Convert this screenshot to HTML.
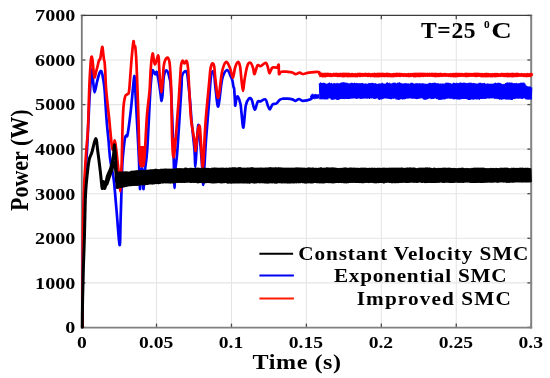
<!DOCTYPE html>
<html><head><meta charset="utf-8"><style>
html,body{margin:0;padding:0;background:#fff;width:550px;height:378px;overflow:hidden}
svg{display:block}
text{font-family:"Liberation Serif","Times New Roman",serif;font-weight:bold;fill:#000}
</style></head><body>
<svg width="550" height="378" viewBox="0 0 550 378">
<rect width="550" height="378" fill="#fff"/>
<g stroke="#e5e5e5" stroke-width="1.1"><line x1="156.53" y1="15.45" x2="156.53" y2="327.40"/><line x1="231.47" y1="15.45" x2="231.47" y2="327.40"/><line x1="306.40" y1="15.45" x2="306.40" y2="327.40"/><line x1="381.33" y1="15.45" x2="381.33" y2="327.40"/><line x1="456.27" y1="15.45" x2="456.27" y2="327.40"/><line x1="81.60" y1="282.84" x2="531.20" y2="282.84"/><line x1="81.60" y1="238.27" x2="531.20" y2="238.27"/><line x1="81.60" y1="193.71" x2="531.20" y2="193.71"/><line x1="81.60" y1="149.14" x2="531.20" y2="149.14"/><line x1="81.60" y1="104.58" x2="531.20" y2="104.58"/><line x1="81.60" y1="60.01" x2="531.20" y2="60.01"/></g>
<g stroke="#4a4a4a" stroke-width="1.3"><line x1="81.60" y1="327.40" x2="81.60" y2="323.60"/><line x1="81.60" y1="15.45" x2="81.60" y2="19.25"/><line x1="156.53" y1="327.40" x2="156.53" y2="323.60"/><line x1="156.53" y1="15.45" x2="156.53" y2="19.25"/><line x1="231.47" y1="327.40" x2="231.47" y2="323.60"/><line x1="231.47" y1="15.45" x2="231.47" y2="19.25"/><line x1="306.40" y1="327.40" x2="306.40" y2="323.60"/><line x1="306.40" y1="15.45" x2="306.40" y2="19.25"/><line x1="381.33" y1="327.40" x2="381.33" y2="323.60"/><line x1="381.33" y1="15.45" x2="381.33" y2="19.25"/><line x1="456.27" y1="327.40" x2="456.27" y2="323.60"/><line x1="456.27" y1="15.45" x2="456.27" y2="19.25"/><line x1="531.20" y1="327.40" x2="531.20" y2="323.60"/><line x1="531.20" y1="15.45" x2="531.20" y2="19.25"/><line x1="81.60" y1="327.40" x2="85.40" y2="327.40"/><line x1="531.20" y1="327.40" x2="527.40" y2="327.40"/><line x1="81.60" y1="282.84" x2="85.40" y2="282.84"/><line x1="531.20" y1="282.84" x2="527.40" y2="282.84"/><line x1="81.60" y1="238.27" x2="85.40" y2="238.27"/><line x1="531.20" y1="238.27" x2="527.40" y2="238.27"/><line x1="81.60" y1="193.71" x2="85.40" y2="193.71"/><line x1="531.20" y1="193.71" x2="527.40" y2="193.71"/><line x1="81.60" y1="149.14" x2="85.40" y2="149.14"/><line x1="531.20" y1="149.14" x2="527.40" y2="149.14"/><line x1="81.60" y1="104.58" x2="85.40" y2="104.58"/><line x1="531.20" y1="104.58" x2="527.40" y2="104.58"/><line x1="81.60" y1="60.01" x2="85.40" y2="60.01"/><line x1="531.20" y1="60.01" x2="527.40" y2="60.01"/><line x1="81.60" y1="15.45" x2="85.40" y2="15.45"/><line x1="531.20" y1="15.45" x2="527.40" y2="15.45"/></g>
<line x1="80.69999999999999" y1="15.45" x2="532.2" y2="15.45" stroke="#3c3c3c" stroke-width="1.25"/>
<line x1="80.69999999999999" y1="327.6" x2="532.2" y2="327.6" stroke="#808080" stroke-width="1.7"/>
<line x1="81.8" y1="15.45" x2="81.8" y2="328.4" stroke="#7a7a7a" stroke-width="1.8"/>
<line x1="531.2" y1="15.45" x2="531.2" y2="328.4" stroke="#838383" stroke-width="2"/>
<g fill="none" stroke-linejoin="round" stroke-linecap="round">
<path stroke="#0000ff" stroke-width="2.7" d="M82.5,327.0 C82.6,314.2 82.7,272.8 83.0,250.0 C83.3,227.2 83.8,206.7 84.5,190.0 C85.2,173.3 86.3,161.7 87.0,150.0 C87.7,138.3 88.0,129.2 88.5,120.0 C89.0,110.8 89.1,103.4 89.7,95.0 C90.3,86.6 91.3,71.9 91.9,69.7 C92.5,67.5 92.8,78.2 93.2,82.0 C93.7,85.8 94.0,92.3 94.6,92.3 C95.2,92.3 96.2,85.2 97.0,82.0 C97.8,78.8 98.8,74.8 99.5,73.0 C100.2,71.2 100.8,70.5 101.4,71.3 C102.0,72.1 102.5,74.9 103.0,78.0 C103.5,81.1 104.0,83.0 104.6,90.0 C105.2,97.0 105.9,111.7 106.6,120.0 C107.2,128.3 107.9,133.3 108.5,140.0 C109.1,146.7 109.4,153.3 110.3,160.0 C111.2,166.7 112.8,171.7 113.8,180.0 C114.8,188.3 115.5,199.2 116.5,210.0 C117.5,220.8 118.9,243.3 119.6,245.0 C120.3,246.7 120.3,229.2 120.6,220.0 C120.9,210.8 121.2,199.2 121.5,190.0 C121.8,180.8 122.0,171.7 122.3,165.0 C122.6,158.3 123.0,154.5 123.5,150.0 C124.0,145.5 124.5,140.4 125.0,138.0 C125.5,135.6 125.8,136.1 126.2,135.5 C126.6,134.9 126.8,138.6 127.6,134.4 C128.4,130.2 129.9,118.3 130.8,110.6 C131.7,102.9 132.4,93.8 133.0,88.0 C133.6,82.2 134.1,75.7 134.5,76.0 C134.9,76.3 134.6,77.7 135.3,90.0 C136.0,102.3 137.8,136.7 138.5,150.0 C139.2,163.3 139.1,163.5 139.3,170.0 C139.6,176.5 139.8,188.2 140.0,189.0 C140.2,189.8 140.5,178.5 140.8,175.0 C141.1,171.5 141.6,168.0 142.0,168.0 C142.4,168.0 142.8,171.5 143.0,175.0 C143.2,178.5 143.2,189.8 143.5,189.0 C143.8,188.2 144.4,176.5 145.0,170.0 C145.6,163.5 146.3,163.3 147.2,150.0 C148.1,136.7 149.6,103.1 150.4,90.0 C151.2,76.9 151.7,74.5 152.3,71.5 C152.9,68.5 153.3,71.5 153.8,72.0 C154.3,72.5 154.8,74.5 155.3,74.5 C155.8,74.5 156.3,71.1 156.8,72.0 C157.3,72.9 157.8,76.2 158.5,80.0 C159.2,83.8 160.2,91.5 160.7,95.0 C161.2,98.5 161.2,101.0 161.5,101.0 C161.8,101.0 162.1,99.2 162.5,95.0 C162.9,90.8 163.2,80.1 163.9,76.0 C164.6,71.9 165.7,70.2 166.6,70.5 C167.5,70.8 168.7,74.3 169.4,77.6 C170.1,80.8 170.3,77.9 171.0,90.0 C171.7,102.1 172.9,136.7 173.4,150.0 C173.9,163.3 173.8,163.7 174.0,170.0 C174.2,176.3 174.4,188.0 174.6,188.0 C174.8,188.0 174.8,176.3 175.3,170.0 C175.8,163.7 176.4,163.3 177.4,150.0 C178.4,136.7 180.5,102.3 181.3,90.0 C182.1,77.7 181.4,79.1 182.0,76.0 C182.6,72.9 184.0,71.8 184.8,71.3 C185.6,70.8 186.4,70.7 187.0,73.0 C187.6,75.3 188.0,80.5 188.5,85.0 C189.0,89.5 189.5,94.2 190.0,100.0 C190.5,105.8 190.8,111.7 191.5,120.0 C192.2,128.3 193.9,142.2 194.5,150.0 C195.1,157.8 195.0,167.0 195.3,167.0 C195.6,167.0 196.0,157.0 196.5,150.0 C197.0,143.0 197.7,126.7 198.3,125.0 C198.9,123.3 199.4,133.3 200.0,140.0 C200.6,146.7 201.5,157.5 202.0,165.0 C202.5,172.5 202.8,185.0 203.2,185.0 C203.6,185.0 204.0,172.5 204.5,165.0 C205.0,157.5 205.2,150.8 206.0,140.0 C206.8,129.2 208.5,109.7 209.2,100.0 C209.9,90.3 210.0,86.3 210.4,82.0 C210.8,77.7 211.0,75.8 211.4,74.0 C211.8,72.2 212.3,71.3 212.8,71.3 C213.3,71.3 213.8,71.2 214.2,74.0 C214.6,76.8 214.8,82.6 215.5,88.0 C216.2,93.4 217.2,107.8 218.3,106.5 C219.4,105.2 220.6,86.1 222.0,80.0 C223.4,73.9 225.5,70.5 227.0,70.0 C228.5,69.5 230.1,75.2 231.0,77.0 C231.9,78.8 232.1,79.4 232.5,81.0 C232.9,82.6 233.1,85.2 233.4,86.5 C233.7,87.8 233.9,86.8 234.2,89.0 C234.4,91.2 234.7,97.2 234.9,100.0 C235.1,102.8 235.0,106.0 235.3,105.6 C235.6,105.2 236.1,99.0 236.6,97.6 C237.1,96.2 237.4,95.9 238.1,97.0 C238.8,98.1 239.9,101.3 240.5,104.0 C241.1,106.7 241.0,109.1 241.5,113.0 C242.0,116.9 242.7,128.7 243.4,127.5 C244.1,126.3 244.9,110.4 245.8,105.6 C246.7,100.8 247.8,99.7 248.8,98.7 C249.8,97.7 250.7,97.9 251.7,99.7 C252.7,101.5 253.7,109.3 254.7,109.6 C255.7,109.9 256.7,103.1 257.7,101.7 C258.7,100.3 259.3,101.8 260.6,101.4 C261.9,101.0 264.2,98.7 265.4,99.4 C266.6,100.1 267.1,103.7 267.8,105.4 C268.5,107.1 269.0,109.5 269.8,109.4 C270.6,109.3 271.4,105.6 272.5,104.6 C273.6,103.6 275.3,104.3 276.5,103.5 C277.7,102.7 278.6,100.6 279.7,99.8 C280.8,99.0 281.6,98.9 282.9,98.7 C284.2,98.5 286.0,98.6 287.6,98.7 C289.2,98.8 291.1,99.1 292.4,99.4 C293.7,99.8 294.5,100.9 295.6,100.8 C296.7,100.7 297.8,99.0 299.0,99.0 C300.2,99.0 300.8,100.8 302.7,100.8 C304.6,100.8 309.2,99.9 310.6,99.2 C312.1,98.5 311.3,97.0 311.4,96.5"/>
<polyline stroke="#0000ff" stroke-width="1.2" stroke-linecap="butt" points="311.4,94.4 312.1,98.8 312.8,94.2 313.5,98.4 314.2,94.5 314.9,98.9 315.6,94.4 316.3,98.5 317.0,94.7 317.7,98.3 318.4,94.6 319.1,98.5"/>
<polyline stroke="#0000ff" stroke-width="1.2" stroke-linecap="butt" points="319.4,83.2 319.9,99.0 320.5,82.8 321.1,98.8 321.6,83.4 322.2,98.8 322.7,83.3 323.3,98.7 323.8,83.1 324.4,99.0 324.9,83.3 325.5,99.0 326.0,84.2 326.6,98.8 327.1,84.0 327.7,99.0 328.2,83.7 328.8,97.9 329.3,82.9 329.9,97.8 330.4,83.6 331.0,99.0 331.5,83.4 332.1,99.4 332.6,84.1 333.2,99.2 333.7,83.7 334.3,99.0 334.8,83.5 335.4,98.7 335.9,83.9 336.5,99.2 337.0,83.4 337.6,99.4 338.1,83.5 338.7,99.3 339.2,83.9 339.8,98.8 340.3,83.3 340.9,98.5 341.4,82.9 342.0,98.5 342.5,82.8 343.1,98.4 343.6,82.7 344.2,98.7 344.7,82.9 345.3,98.3 345.8,83.2 346.4,98.4 346.9,83.1 347.5,98.4 348.0,83.5 348.6,98.6 349.1,83.8 349.7,98.4 350.2,83.7 350.8,98.1 351.3,83.2 351.9,98.2 352.4,83.3 353.0,98.0 353.5,83.5 354.1,98.0 354.6,83.2 355.2,98.0 355.7,83.6 356.3,98.4 356.8,83.4 357.4,98.2 357.9,83.5 358.5,98.0 359.0,83.7 359.6,98.1 360.1,83.5 360.7,98.4 361.2,83.6 361.8,98.3 362.3,83.4 362.9,98.2 363.4,83.8 364.0,98.1 364.5,84.0 365.1,98.0 365.6,83.9 366.2,98.2 366.7,84.0 367.3,98.2 367.8,84.0 368.4,97.9 368.9,83.3 369.5,98.4 370.0,83.5 370.6,97.8 371.1,83.3 371.7,98.0 372.2,83.4 372.8,98.0 373.3,83.4 373.9,98.5 374.4,83.8 375.0,98.6 375.5,83.6 376.1,98.2 376.6,84.2 377.2,97.7 377.7,84.3 378.3,98.9 378.8,83.8 379.4,99.4 379.9,83.8 380.5,99.0 381.0,83.8 381.6,99.0 382.1,83.1 382.7,98.6 383.2,83.8 383.8,98.1 384.3,84.1 384.9,98.0 385.4,84.0 386.0,97.9 386.5,83.2 387.1,98.2 387.6,82.8 388.2,98.2 388.7,83.5 389.3,98.4 389.8,83.2 390.4,98.7 390.9,84.0 391.5,98.7 392.0,83.7 392.6,98.2 393.1,83.2 393.7,98.3 394.2,83.0 394.8,97.9 395.3,83.2 395.9,99.0 396.4,83.8 397.0,98.9 397.5,83.2 398.1,99.5 398.6,83.2 399.2,99.4 399.7,82.7 400.3,98.8 400.8,83.6 401.4,98.6 401.9,83.5 402.5,98.9 403.0,84.0 403.6,98.8 404.1,83.7 404.7,98.8 405.2,83.6 405.8,98.5 406.3,83.7 406.9,97.9 407.4,83.8 408.0,98.3 408.5,83.8 409.1,97.8 409.6,84.1 410.2,97.9 410.7,83.4 411.3,98.1 411.8,83.0 412.4,98.2 412.9,83.4 413.5,98.2 414.0,84.0 414.6,98.1 415.1,83.8 415.7,98.4 416.2,83.7 416.8,98.7 417.3,83.6 417.9,98.4 418.4,83.9 419.0,98.2 419.5,83.5 420.1,98.1 420.6,83.9 421.2,97.7 421.7,83.8 422.3,98.0 422.8,83.7 423.4,99.0 423.9,83.9 424.5,99.2 425.0,84.2 425.6,99.3 426.1,84.1 426.7,98.9 427.2,84.3 427.8,98.6 428.3,83.8 428.9,98.1 429.4,83.3 430.0,97.9 430.5,83.4 431.1,98.7 431.6,83.6 432.2,98.4 432.7,83.3 433.3,98.5 433.8,83.4 434.4,98.1 434.9,82.9 435.5,98.0 436.0,83.5 436.6,98.6 437.1,83.6 437.7,98.7 438.2,83.7 438.8,99.5 439.3,84.1 439.9,99.3 440.4,83.8 441.0,99.5 441.5,84.1 442.1,99.0 442.6,83.9 443.2,98.9 443.7,84.1 444.3,98.9 444.8,83.8 445.4,98.7 445.9,83.2 446.5,98.2 447.0,83.0 447.6,98.2 448.1,83.0 448.7,98.0 449.2,83.3 449.8,98.2 450.3,83.6 450.9,98.3 451.4,84.0 452.0,98.2 452.5,83.9 453.1,98.8 453.6,83.1 454.2,98.8 454.7,83.3 455.3,98.6 455.8,83.5 456.4,98.8 456.9,83.2 457.5,98.9 458.0,83.7 458.6,99.0 459.1,83.3 459.7,99.2 460.2,82.9 460.8,98.7 461.3,83.1 461.9,98.6 462.4,83.3 463.0,98.5 463.5,83.1 464.1,98.5 464.6,83.1 465.2,98.5 465.7,83.3 466.3,98.6 466.8,83.7 467.4,99.0 467.9,83.4 468.5,99.4 469.0,83.2 469.6,99.4 470.1,83.2 470.7,99.3 471.2,83.2 471.8,98.7 472.3,83.5 472.9,99.2 473.4,83.4 474.0,99.1 474.5,83.6 475.1,98.7 475.6,83.9 476.2,98.9 476.7,83.8 477.3,98.9 477.8,84.0 478.4,98.8 478.9,83.3 479.5,99.3 480.0,83.1 480.6,98.5 481.1,83.4 481.7,98.4 482.2,83.7 482.8,98.4 483.3,83.7 483.9,98.3 484.4,83.4 485.0,98.4 485.5,84.0 486.1,98.3 486.6,84.2 487.2,98.0 487.7,83.8 488.3,98.0 488.8,84.2 489.4,98.1 489.9,84.2 490.5,97.8 491.0,84.1 491.6,97.9 492.1,84.1 492.7,97.7 493.2,84.0 493.8,98.0 494.3,83.6 494.9,98.6 495.4,83.0 496.0,98.2 496.5,83.7 497.1,98.6 497.6,83.4 498.2,98.4 498.7,83.2 499.3,99.2 499.8,83.3 500.4,99.0 500.9,83.6 501.5,99.2 502.0,84.5 502.6,98.9 503.1,84.4 503.7,98.7 504.2,84.5 504.8,98.7 505.3,83.7 505.9,99.2 506.4,83.2 507.0,98.9 507.5,82.8 508.1,99.2 508.6,83.1 509.2,99.1 509.7,82.9 510.3,99.2 510.8,83.1 511.4,99.5 511.9,82.9 512.5,99.3 513.0,83.5 513.6,98.4 514.1,83.5 514.7,98.6 515.2,83.6 515.8,98.2 516.3,83.4 516.9,98.1 517.4,83.9 518.0,98.3 518.5,83.6 519.1,98.2 519.6,83.6 520.2,97.9 520.7,83.2 521.3,98.4 521.8,83.1 522.4,98.5 522.9,83.0 523.5,98.0 524.0,82.9 524.6,98.0 525.1,84.0 525.7,98.8 526.2,85.8 526.8,99.0 527.3,86.5 527.9,99.2 528.4,86.9 529.0,99.2 529.5,86.9 530.1,98.8 530.6,87.2 531.2,99.1 531.7,87.5"/>
<path stroke="#ff0000" stroke-width="2.7" d="M82.5,327.0 C82.5,322.5 82.5,309.5 82.5,300.0 C82.5,290.5 82.6,281.7 82.7,270.0 C82.8,258.3 82.8,243.3 83.0,230.0 C83.2,216.7 83.5,203.3 84.0,190.0 C84.5,176.7 85.6,160.0 86.3,150.0 C87.0,140.0 87.4,140.0 87.9,130.0 C88.4,120.0 88.8,100.8 89.2,90.0 C89.6,79.2 90.1,70.5 90.5,65.0 C90.9,59.5 91.1,57.8 91.4,57.0 C91.7,56.2 92.0,56.7 92.5,60.0 C93.0,63.3 93.7,75.0 94.3,77.0 C94.9,79.0 95.5,73.8 96.0,72.0 C96.5,70.2 97.0,68.5 97.5,66.5 C98.0,64.5 98.5,61.5 99.0,60.2 C99.5,58.9 99.8,60.8 100.3,58.6 C100.8,56.4 101.7,47.8 102.2,47.0 C102.7,46.2 103.0,51.8 103.3,54.0 C103.6,56.2 103.8,58.7 104.0,60.0 C104.2,61.3 104.4,60.0 104.6,62.0 C104.8,64.0 105.0,67.3 105.3,72.0 C105.6,76.7 105.5,82.0 106.2,90.0 C106.9,98.0 108.3,110.7 109.3,120.0 C110.2,129.3 111.2,141.2 111.9,146.0 C112.6,150.8 112.8,149.9 113.3,149.0 C113.8,148.1 114.3,140.3 114.8,140.5 C115.3,140.7 115.6,144.2 116.3,150.0 C117.0,155.8 118.2,168.1 118.9,175.0 C119.6,181.9 119.9,191.5 120.3,191.5 C120.7,191.5 120.8,180.2 121.1,175.0 C121.3,169.8 121.5,168.3 121.8,160.0 C122.0,151.7 122.3,133.8 122.6,125.0 C122.9,116.2 123.1,111.8 123.5,107.0 C123.9,102.2 124.5,98.5 125.2,96.3 C125.9,94.1 126.9,95.0 127.6,94.0 C128.3,93.0 128.5,95.7 129.2,90.0 C129.8,84.3 130.8,68.1 131.5,60.0 C132.2,51.9 132.9,43.7 133.4,41.5 C133.9,39.3 134.0,46.2 134.3,47.0 C134.6,47.8 134.9,45.2 135.2,46.5 C135.5,47.8 135.7,50.8 136.0,55.0 C136.3,59.2 136.6,66.2 136.8,72.0 C137.1,77.8 137.2,82.0 137.5,90.0 C137.8,98.0 138.2,110.0 138.5,120.0 C138.8,130.0 139.0,142.7 139.3,150.0 C139.6,157.3 139.9,161.3 140.3,164.0 C140.8,166.7 141.4,166.0 142.0,166.0 C142.6,166.0 143.3,166.7 143.8,164.0 C144.3,161.3 144.5,158.2 145.0,150.0 C145.5,141.8 146.2,125.0 147.0,115.0 C147.8,105.0 149.0,97.8 149.6,90.0 C150.2,82.2 150.3,74.1 150.8,68.0 C151.3,61.9 151.9,54.1 152.6,53.5 C153.3,52.9 153.9,64.2 154.8,64.5 C155.8,64.8 157.6,55.2 158.3,55.5 C159.0,55.8 158.8,62.1 159.1,66.5 C159.4,70.9 159.8,77.7 160.2,82.0 C160.6,86.3 161.0,92.5 161.4,92.5 C161.8,92.5 162.2,86.6 162.6,82.0 C163.0,77.4 163.2,68.9 163.9,64.9 C164.6,60.9 166.1,58.3 167.0,57.8 C167.9,57.3 168.8,58.8 169.4,61.7 C170.0,64.6 170.2,70.3 170.5,75.0 C170.8,79.7 170.9,79.2 171.2,90.0 C171.5,100.8 171.8,128.8 172.2,140.0 C172.6,151.2 173.0,157.5 173.6,157.5 C174.2,157.5 174.9,147.1 175.6,140.0 C176.2,132.9 177.0,121.7 177.5,115.0 C178.0,108.3 178.3,105.8 178.7,100.0 C179.1,94.2 179.6,85.7 180.0,80.0 C180.4,74.3 180.6,69.2 181.0,66.0 C181.4,62.8 181.9,61.2 182.5,60.8 C183.1,60.4 183.9,63.5 184.6,63.5 C185.3,63.5 186.0,60.2 186.6,61.0 C187.2,61.8 187.6,64.0 188.0,68.0 C188.4,72.0 188.7,79.7 189.0,85.0 C189.3,90.3 189.4,94.2 189.8,100.0 C190.2,105.8 190.4,113.3 191.2,120.0 C191.9,126.7 193.6,134.8 194.3,140.0 C195.0,145.2 195.2,151.3 195.6,151.0 C196.0,150.7 196.5,142.0 197.0,138.0 C197.5,134.0 198.0,128.8 198.5,127.0 C199.0,125.2 199.4,124.8 199.8,127.0 C200.2,129.2 200.4,134.5 200.8,140.0 C201.2,145.5 201.7,155.5 202.0,160.0 C202.3,164.5 202.5,167.8 202.8,167.0 C203.1,166.2 203.5,159.5 203.8,155.0 C204.1,150.5 204.2,145.8 204.5,140.0 C204.8,134.2 205.2,126.7 205.7,120.0 C206.2,113.3 206.9,106.3 207.5,100.0 C208.1,93.7 208.7,87.0 209.2,82.0 C209.7,77.0 209.9,72.9 210.3,70.0 C210.7,67.1 211.2,65.6 211.6,64.5 C212.0,63.4 212.6,63.1 213.0,63.5 C213.4,63.9 213.9,64.2 214.3,67.0 C214.7,69.8 214.8,74.9 215.5,80.0 C216.2,85.1 217.2,98.9 218.3,97.6 C219.4,96.3 220.7,77.9 222.0,72.0 C223.3,66.1 224.7,62.7 226.0,62.0 C227.3,61.3 228.8,65.3 230.0,68.0 C231.2,70.7 232.1,77.9 232.9,77.9 C233.7,77.9 234.2,70.7 235.0,68.0 C235.8,65.3 237.1,62.3 237.9,62.0 C238.7,61.7 239.4,63.0 240.0,66.0 C240.6,69.0 241.0,75.8 241.5,80.0 C242.0,84.2 242.5,91.0 243.0,91.0 C243.5,91.0 243.8,84.2 244.5,80.0 C245.2,75.8 246.3,68.9 247.3,66.0 C248.3,63.1 249.6,62.5 250.5,62.8 C251.4,63.1 252.3,65.9 253.0,67.8 C253.7,69.7 253.8,74.5 254.6,74.1 C255.3,73.7 256.5,66.7 257.5,65.4 C258.5,64.1 259.2,66.6 260.6,66.2 C262.0,65.8 264.4,62.8 265.6,62.9 C266.8,63.0 267.2,65.3 267.8,67.0 C268.4,68.7 268.8,73.1 269.5,73.3 C270.2,73.5 271.1,69.1 271.9,68.1 C272.7,67.1 273.4,67.4 274.3,67.3 C275.2,67.2 276.4,68.1 277.1,67.7 C277.8,67.3 278.4,63.9 278.7,64.9 C279.0,66.0 278.6,72.9 279.0,74.0 C279.4,75.1 279.9,72.1 281.4,71.7 C282.9,71.3 285.9,71.7 287.8,71.8 C289.7,71.9 291.2,72.1 292.5,72.5 C293.8,72.9 294.5,74.2 295.7,74.2 C296.9,74.2 298.5,72.6 299.7,72.6 C300.9,72.6 301.1,74.0 302.7,74.0 C304.2,74.0 306.4,72.9 309.0,72.6 C311.6,72.3 316.9,71.8 318.6,72.0 C320.3,72.2 319.3,73.7 319.4,74.0"/>
<polyline stroke="#ff0000" stroke-width="1.2" stroke-linecap="butt" points="319.4,73.5 319.9,76.6 320.5,73.2 321.1,76.7 321.6,73.2 322.2,76.8 322.7,73.1 323.3,76.9 323.8,73.3 324.4,76.8 324.9,73.1 325.5,76.8 326.0,73.1 326.6,76.7 327.1,73.0 327.7,76.5 328.2,73.2 328.8,76.5 329.3,73.4 329.9,76.6 330.4,73.4 331.0,76.6 331.5,73.5 332.1,76.7 332.6,73.6 333.2,76.4 333.7,73.2 334.3,76.3 334.8,73.3 335.4,76.3 335.9,73.0 336.5,76.3 337.0,73.2 337.6,76.6 338.1,73.4 338.7,76.6 339.2,73.4 339.8,76.7 340.3,73.2 340.9,76.5 341.4,73.4 342.0,76.8 342.5,73.1 343.1,76.9 343.6,73.2 344.2,76.8 344.7,73.2 345.3,76.7 345.8,73.1 346.4,76.7 346.9,73.2 347.5,76.9 348.0,73.1 348.6,76.9 349.1,73.2 349.7,76.7 350.2,73.5 350.8,76.9 351.3,73.4 351.9,76.7 352.4,73.4 353.0,76.8 353.5,73.6 354.1,76.7 354.6,73.5 355.2,77.0 355.7,73.4 356.3,76.8 356.8,73.5 357.4,76.8 357.9,73.2 358.5,76.4 359.0,73.1 359.6,76.6 360.1,73.1 360.7,76.6 361.2,73.4 361.8,76.4 362.3,73.3 362.9,76.6 363.4,73.4 364.0,76.4 364.5,73.4 365.1,76.4 365.6,73.2 366.2,76.3 366.7,73.3 367.3,76.6 367.8,73.3 368.4,76.6 368.9,73.1 369.5,76.5 370.0,73.3 370.6,76.8 371.1,73.5 371.7,76.6 372.2,73.3 372.8,76.6 373.3,73.3 373.9,76.8 374.4,73.2 375.0,76.8 375.5,73.3 376.1,76.8 376.6,73.3 377.2,76.8 377.7,73.2 378.3,76.8 378.8,73.1 379.4,76.9 379.9,73.0 380.5,76.7 381.0,73.2 381.6,76.7 382.1,73.0 382.7,76.6 383.2,73.2 383.8,76.7 384.3,73.3 384.9,76.8 385.4,73.3 386.0,76.6 386.5,73.1 387.1,76.6 387.6,73.2 388.2,76.8 388.7,73.3 389.3,76.7 389.8,73.4 390.4,76.8 390.9,73.6 391.5,76.8 392.0,73.6 392.6,76.8 393.1,73.3 393.7,76.8 394.2,73.3 394.8,76.6 395.3,73.3 395.9,76.7 396.4,73.2 397.0,76.6 397.5,73.2 398.1,76.5 398.6,73.3 399.2,76.7 399.7,73.2 400.3,76.6 400.8,73.4 401.4,76.5 401.9,73.4 402.5,76.5 403.0,73.6 403.6,76.6 404.1,73.4 404.7,76.5 405.2,73.7 405.8,76.7 406.3,73.7 406.9,76.6 407.4,73.5 408.0,76.7 408.5,73.4 409.1,76.8 409.6,73.5 410.2,76.7 410.7,73.3 411.3,76.6 411.8,73.3 412.4,76.5 412.9,73.4 413.5,76.8 414.0,73.1 414.6,76.8 415.1,73.2 415.7,76.8 416.2,73.1 416.8,76.7 417.3,73.1 417.9,76.7 418.4,73.2 419.0,76.8 419.5,73.1 420.1,76.6 420.6,73.1 421.2,76.7 421.7,73.1 422.3,76.5 422.8,73.1 423.4,76.6 423.9,73.2 424.5,76.4 425.0,73.1 425.6,76.5 426.1,73.3 426.7,76.5 427.2,73.1 427.8,76.4 428.3,73.3 428.9,76.5 429.4,73.1 430.0,76.5 430.5,73.3 431.1,76.5 431.6,73.2 432.2,76.5 432.7,73.1 433.3,76.7 433.8,73.3 434.4,76.6 434.9,73.1 435.5,76.8 436.0,73.1 436.6,76.6 437.1,73.3 437.7,76.7 438.2,73.3 438.8,76.7 439.3,73.4 439.9,76.7 440.4,73.2 441.0,76.5 441.5,73.3 442.1,76.6 442.6,73.5 443.2,76.3 443.7,73.4 444.3,76.4 444.8,73.4 445.4,76.3 445.9,73.4 446.5,76.5 447.0,73.7 447.6,76.3 448.1,73.5 448.7,76.6 449.2,73.7 449.8,76.5 450.3,73.4 450.9,76.8 451.4,73.6 452.0,76.7 452.5,73.3 453.1,76.8 453.6,73.4 454.2,76.8 454.7,73.4 455.3,76.8 455.8,73.2 456.4,76.8 456.9,73.2 457.5,76.6 458.0,73.4 458.6,76.7 459.1,73.2 459.7,76.5 460.2,73.3 460.8,76.6 461.3,73.3 461.9,76.4 462.4,73.3 463.0,76.6 463.5,73.5 464.1,76.4 464.6,73.4 465.2,76.7 465.7,73.2 466.3,76.8 466.8,73.2 467.4,76.7 467.9,73.3 468.5,76.7 469.0,73.2 469.6,76.5 470.1,73.3 470.7,76.4 471.2,73.3 471.8,76.4 472.3,73.3 472.9,76.3 473.4,73.3 474.0,76.5 474.5,73.1 475.1,76.6 475.6,73.2 476.2,76.6 476.7,73.1 477.3,76.6 477.8,73.1 478.4,76.5 478.9,73.2 479.5,76.5 480.0,73.3 480.6,76.7 481.1,73.3 481.7,76.8 482.2,73.4 482.8,77.0 483.3,73.7 483.9,76.9 484.4,73.4 485.0,76.9 485.5,73.3 486.1,76.9 486.6,73.1 487.2,76.9 487.7,73.3 488.3,76.8 488.8,73.3 489.4,76.7 489.9,73.5 490.5,76.9 491.0,73.5 491.6,77.0 492.1,73.3 492.7,76.9 493.2,73.5 493.8,76.6 494.3,73.4 494.9,76.8 495.4,73.3 496.0,76.8 496.5,73.4 497.1,76.7 497.6,73.4 498.2,76.6 498.7,73.7 499.3,76.5 499.8,73.5 500.4,76.6 500.9,73.4 501.5,76.4 502.0,73.2 502.6,76.5 503.1,73.4 503.7,76.6 504.2,73.4 504.8,76.6 505.3,73.3 505.9,76.7 506.4,73.3 507.0,76.9 507.5,73.2 508.1,77.0 508.6,73.3 509.2,76.9 509.7,73.4 510.3,76.7 510.8,73.4 511.4,76.8 511.9,73.2 512.5,76.8 513.0,73.2 513.6,76.8 514.1,73.3 514.7,76.6 515.2,73.4 515.8,76.6 516.3,73.2 516.9,76.6 517.4,73.2 518.0,76.6 518.5,73.3 519.1,76.5 519.6,73.5 520.2,76.5 520.7,73.5 521.3,76.5 521.8,73.4 522.4,76.5 522.9,73.5 523.5,76.7 524.0,73.6 524.6,76.7 525.1,73.7 525.7,76.6 526.2,73.5 526.8,76.8 527.3,73.4 527.9,76.6 528.4,73.5 529.0,76.6 529.5,73.5 530.1,76.6 530.6,73.6 531.2,76.7"/>
<polygon fill="#ff0000" stroke="none" points="138.6,146 145.6,146 144.6,162 142,166.5 139.8,163"/>
<polygon fill="#ff0000" stroke="none" points="171.8,138 176.4,138 175,155 173.6,158.5 172.3,155"/>
<line x1="530.5" y1="74.6" x2="531.2" y2="74.6" stroke="#ff0000" stroke-width="3.8"/>
<path stroke="#000" stroke-width="3" d="M82.3,327.0 C82.3,322.5 82.4,309.5 82.6,300.0 C82.8,290.5 83.0,280.8 83.3,270.0 C83.6,259.2 84.2,246.7 84.5,235.0 C84.8,223.3 85.0,208.3 85.3,200.0 C85.6,191.7 85.8,189.8 86.2,185.0 C86.6,180.2 87.1,175.3 87.6,171.0 C88.1,166.7 88.6,162.3 89.3,159.2 C90.0,156.1 90.8,155.7 91.9,152.3 C93.0,148.9 94.7,138.6 95.7,138.6 C96.7,138.6 97.1,146.6 97.9,152.3 C98.7,158.0 99.8,167.0 100.5,173.0 C101.2,179.0 101.7,187.0 102.2,188.4 C102.7,189.8 103.2,181.5 103.6,181.5 C104.0,181.5 104.2,189.2 104.8,188.4 C105.4,187.6 106.3,179.8 107.3,176.4 C108.3,173.0 109.8,171.2 110.8,167.8 C111.8,164.4 112.8,159.8 113.4,156.0 C114.0,152.2 114.0,145.0 114.3,144.8 C114.6,144.6 115.0,150.0 115.4,155.0 C115.8,160.0 116.2,169.6 116.5,175.0 C116.8,180.4 117.1,185.4 117.2,187.5"/>
<polyline stroke="#000" stroke-width="2.6" points="104.8,187 107.2,184 109.5,177 112,170 113.8,162 115.5,170 116.5,182"/>
<polyline stroke="#000" stroke-width="1.2" stroke-linecap="butt" points="116.8,172.1 117.3,188.4 117.8,171.9 118.3,188.1 118.8,172.1 119.3,187.6 119.8,171.9 120.3,187.4 120.8,172.0 121.3,187.6 121.8,171.9 122.3,187.2 122.8,171.9 123.3,187.1 123.8,171.9 124.3,186.8 124.8,171.9 125.3,186.6 125.8,171.7 126.3,186.4 126.8,171.9 127.3,186.1 127.8,171.9 128.3,185.9 128.8,172.0 129.3,185.7 129.8,171.9 130.3,185.7 130.8,171.3 131.3,185.7 131.8,171.2 132.3,185.5 132.8,171.1 133.3,185.5 133.8,171.0 134.3,185.4 134.8,170.8 135.3,185.3 135.8,170.8 136.3,185.5 136.8,170.7 137.3,185.3 137.8,170.7 138.3,185.2 138.8,170.5 139.3,184.9 139.8,170.7 140.3,184.9 140.8,170.7 141.3,184.7 141.8,170.6 142.3,184.7 142.8,170.7 143.3,184.7 143.8,170.6 144.3,184.8 144.8,170.6 145.3,184.6 145.8,170.3 146.3,184.5 146.8,170.2 147.3,184.5 147.8,170.2 148.3,184.3 148.8,170.0 149.3,184.0 149.8,169.8 150.3,184.0 150.8,169.7 151.3,183.9 151.8,169.8 152.3,184.1 152.8,169.6 153.3,184.0 153.8,169.5 154.3,183.8 154.8,169.4 155.3,183.6 155.8,169.2 156.3,183.6 156.8,169.4 157.3,183.4 157.8,169.5 158.3,183.8 158.8,169.6 159.3,183.5 159.8,169.5 160.3,183.4 160.8,169.2 161.3,183.0 161.8,169.4 162.3,183.1 162.8,169.1 163.3,182.9 163.8,169.0 164.3,182.8 164.8,169.1 165.3,182.8 165.8,168.9 166.3,183.0 166.8,169.2 167.3,182.8 167.8,169.2 168.3,182.9 168.8,169.1 169.3,183.0 169.8,169.1 170.3,183.1 170.8,169.0 171.3,182.9 171.8,169.0 172.3,183.0 172.8,169.1 173.3,183.0 173.8,169.2 174.3,183.0 174.8,168.9 175.3,182.6 175.8,168.8 176.3,182.4 176.8,168.7 177.3,182.3 177.8,168.6 178.3,182.4 178.8,168.5 179.3,182.5 179.8,168.5 180.3,182.3 180.8,168.6 181.3,182.4 181.8,168.7 182.3,182.4 182.8,168.8 183.3,182.3 183.8,168.5 184.3,182.5 184.8,168.1 185.3,182.4 185.8,168.2 186.3,182.2 186.8,168.2 187.3,182.3 187.8,168.5 188.3,182.1 188.8,168.6 189.3,182.1 189.8,168.4 190.3,182.4 190.8,168.2 191.3,182.4 191.8,168.4 192.3,182.3 192.8,168.4 193.3,182.3 193.8,168.3 194.3,182.4 194.8,168.3 195.3,182.3 195.8,168.2 196.3,182.5 196.8,168.2 197.3,182.8 197.8,168.1 198.3,182.8 198.8,168.2 199.3,182.6 199.8,168.4 200.3,182.5 200.8,168.7 201.3,182.5 201.8,168.5 202.3,182.6 202.8,168.1 203.3,182.8 203.8,168.1 204.3,182.9 204.8,168.2 205.3,182.6 205.8,168.3 206.3,182.7 206.8,168.4 207.3,182.4 207.8,168.3 208.3,182.4 208.8,168.4 209.3,182.7 209.8,168.6 210.3,182.6 210.8,168.5 211.3,182.8 211.8,168.2 212.3,182.9 212.8,168.1 213.3,182.9 213.8,168.1 214.3,182.9 214.8,167.9 215.3,182.8 215.8,168.0 216.3,182.8 216.8,168.0 217.3,182.6 217.8,168.0 218.3,182.6 218.8,168.4 219.3,182.6 219.8,168.2 220.3,182.8 220.8,168.2 221.3,182.9 221.8,168.1 222.3,182.8 222.8,168.1 223.3,182.7 223.8,168.1 224.3,182.7 224.8,168.3 225.3,182.5 225.8,168.2 226.3,182.7 226.8,168.1 227.3,183.1 227.8,168.3 228.3,183.2 228.8,168.1 229.3,182.9 229.8,167.9 230.3,183.1 230.8,168.0 231.3,183.2 231.8,167.8 232.3,183.0 232.8,167.7 233.3,183.1 233.8,167.8 234.3,183.0 234.8,167.7 235.3,182.9 235.8,167.9 236.3,182.9 236.8,168.0 237.3,182.9 237.8,167.9 238.3,182.9 238.8,167.5 239.3,183.0 239.8,167.6 240.3,183.0 240.8,167.7 241.3,182.8 241.8,168.1 242.3,183.0 242.8,168.2 243.3,183.0 243.8,168.0 244.3,183.0 244.8,168.2 245.3,182.9 245.8,168.2 246.3,182.9 246.8,168.2 247.3,183.1 247.8,167.9 248.3,183.0 248.8,168.1 249.3,183.3 249.8,167.8 250.3,182.9 250.8,167.8 251.3,182.6 251.8,167.7 252.3,182.7 252.8,167.6 253.3,182.9 253.8,168.0 254.3,183.1 254.8,168.2 255.3,183.0 255.8,168.2 256.3,182.9 256.8,168.1 257.3,182.7 257.8,168.1 258.3,182.6 258.8,168.1 259.3,182.8 259.8,168.0 260.3,182.8 260.8,167.9 261.3,182.6 261.8,168.1 262.3,182.8 262.8,168.1 263.3,182.7 263.8,168.1 264.3,182.9 264.8,168.1 265.3,183.0 265.8,167.9 266.3,183.1 266.8,168.0 267.3,183.1 267.8,167.9 268.3,183.1 268.8,167.9 269.3,183.0 269.8,167.7 270.3,182.7 270.8,167.7 271.3,182.8 271.8,167.8 272.3,182.9 272.8,167.8 273.3,182.7 273.8,167.8 274.3,183.1 274.8,167.9 275.3,183.1 275.8,167.7 276.3,183.2 276.8,167.9 277.3,183.0 277.8,167.8 278.3,182.7 278.8,167.6 279.3,182.7 279.8,167.8 280.3,182.7 280.8,167.9 281.3,183.0 281.8,167.8 282.3,182.9 282.8,168.0 283.3,182.8 283.8,168.0 284.3,182.8 284.8,168.2 285.3,183.0 285.8,168.1 286.3,182.8 286.8,168.2 287.3,183.1 287.8,168.0 288.3,183.0 288.8,168.2 289.3,183.1 289.8,168.2 290.3,183.0 290.8,168.2 291.3,182.9 291.8,168.1 292.3,182.8 292.8,168.2 293.3,182.9 293.8,168.1 294.3,182.9 294.8,168.1 295.3,182.7 295.8,167.8 296.3,182.9 296.8,167.8 297.3,182.6 297.8,167.9 298.3,182.8 298.8,167.9 299.3,182.7 299.8,168.0 300.3,182.7 300.8,167.9 301.3,182.5 301.8,168.1 302.3,182.7 302.8,168.0 303.3,182.6 303.8,168.0 304.3,182.9 304.8,168.1 305.3,183.1 305.8,168.3 306.3,183.1 306.8,168.3 307.3,182.8 307.8,167.9 308.3,182.8 308.8,167.9 309.3,182.7 309.8,167.9 310.3,182.9 310.8,168.0 311.3,182.9 311.8,168.0 312.3,183.0 312.8,167.8 313.3,182.8 313.8,168.0 314.3,182.5 314.8,168.3 315.3,182.5 315.8,168.2 316.3,182.7 316.8,168.4 317.3,182.7 317.8,168.3 318.3,182.7 318.8,168.1 319.3,182.9 319.8,168.1 320.3,182.8 320.8,167.7 321.3,182.8 321.8,167.9 322.3,182.9 322.8,168.3 323.3,182.9 323.8,168.1 324.3,182.8 324.8,168.2 325.3,182.7 325.8,168.0 326.3,182.4 326.8,167.7 327.3,182.6 327.8,167.9 328.3,182.6 328.8,167.8 329.3,182.7 329.8,168.0 330.3,182.6 330.8,167.9 331.3,182.7 331.8,167.8 332.3,182.9 332.8,167.8 333.3,182.8 333.8,167.9 334.3,182.8 334.8,168.0 335.3,182.6 335.8,168.1 336.3,182.4 336.8,168.4 337.3,182.4 337.8,168.4 338.3,182.6 338.8,168.5 339.3,182.4 339.8,168.3 340.3,182.4 340.8,168.4 341.3,182.6 341.8,168.3 342.3,182.5 342.8,168.1 343.3,182.7 343.8,168.0 344.3,182.8 344.8,167.9 345.3,182.7 345.8,167.9 346.3,182.9 346.8,168.2 347.3,182.7 347.8,168.4 348.3,182.7 348.8,168.2 349.3,182.5 349.8,168.0 350.3,182.5 350.8,167.9 351.3,182.3 351.8,168.0 352.3,182.4 352.8,168.1 353.3,182.3 353.8,168.1 354.3,182.3 354.8,168.2 355.3,182.5 355.8,168.2 356.3,182.4 356.8,168.3 357.3,182.4 357.8,168.2 358.3,182.4 358.8,168.4 359.3,182.6 359.8,168.3 360.3,182.4 360.8,168.1 361.3,182.7 361.8,168.1 362.3,182.7 362.8,168.2 363.3,182.7 363.8,168.1 364.3,182.6 364.8,168.2 365.3,182.3 365.8,168.1 366.3,182.5 366.8,168.3 367.3,182.3 367.8,168.3 368.3,182.6 368.8,168.3 369.3,182.5 369.8,168.2 370.3,182.3 370.8,168.3 371.3,182.4 371.8,168.0 372.3,182.3 372.8,168.0 373.3,182.6 373.8,168.3 374.3,182.7 374.8,168.2 375.3,182.8 375.8,168.4 376.3,182.8 376.8,168.3 377.3,182.6 377.8,168.1 378.3,182.7 378.8,168.3 379.3,182.5 379.8,168.2 380.3,182.4 380.8,168.3 381.3,182.4 381.8,168.4 382.3,182.5 382.8,168.0 383.3,182.9 383.8,168.1 384.3,182.9 384.8,168.1 385.3,182.4 385.8,168.3 386.3,182.3 386.8,168.2 387.3,182.2 387.8,168.3 388.3,182.2 388.8,168.2 389.3,182.4 389.8,168.2 390.3,182.3 390.8,168.2 391.3,182.7 391.8,168.2 392.3,182.7 392.8,168.1 393.3,182.7 393.8,168.1 394.3,182.6 394.8,168.1 395.3,182.8 395.8,168.0 396.3,182.6 396.8,168.1 397.3,182.6 397.8,168.0 398.3,182.7 398.8,168.2 399.3,182.5 399.8,168.0 400.3,182.4 400.8,168.1 401.3,182.3 401.8,167.8 402.3,182.5 402.8,168.0 403.3,182.2 403.8,168.3 404.3,182.3 404.8,168.4 405.3,182.3 405.8,168.2 406.3,182.5 406.8,168.2 407.3,182.4 407.8,167.9 408.3,182.5 408.8,168.0 409.3,182.3 409.8,167.8 410.3,182.2 410.8,167.8 411.3,182.2 411.8,168.0 412.3,182.1 412.8,168.0 413.3,182.3 413.8,167.9 414.3,182.3 414.8,168.2 415.3,182.2 415.8,168.3 416.3,182.4 416.8,168.5 417.3,182.3 417.8,168.5 418.3,182.3 418.8,168.2 419.3,182.0 419.8,168.1 420.3,182.1 420.8,168.2 421.3,182.3 421.8,168.2 422.3,182.4 422.8,168.1 423.3,182.2 423.8,168.0 424.3,182.6 424.8,168.1 425.3,182.4 425.8,167.9 426.3,182.6 426.8,167.9 427.3,182.5 427.8,167.8 428.3,182.5 428.8,168.0 429.3,182.3 429.8,167.9 430.3,182.5 430.8,168.3 431.3,182.5 431.8,168.4 432.3,182.4 432.8,168.5 433.3,182.5 433.8,168.2 434.3,182.4 434.8,168.2 435.3,182.5 435.8,168.3 436.3,182.4 436.8,168.5 437.3,182.3 437.8,168.3 438.3,182.3 438.8,168.3 439.3,182.3 439.8,168.3 440.3,182.1 440.8,168.4 441.3,182.0 441.8,168.3 442.3,182.4 442.8,168.1 443.3,182.3 443.8,168.0 444.3,182.4 444.8,168.0 445.3,182.2 445.8,168.1 446.3,182.2 446.8,168.3 447.3,182.2 447.8,168.2 448.3,182.2 448.8,168.2 449.3,182.5 449.8,168.2 450.3,182.5 450.8,168.3 451.3,182.4 451.8,168.4 452.3,182.5 452.8,168.5 453.3,182.5 453.8,168.4 454.3,182.3 454.8,168.4 455.3,182.2 455.8,168.5 456.3,182.2 456.8,168.5 457.3,182.1 457.8,168.5 458.3,182.4 458.8,168.4 459.3,182.3 459.8,168.4 460.3,182.3 460.8,168.3 461.3,182.3 461.8,168.1 462.3,182.3 462.8,168.0 463.3,182.4 463.8,168.4 464.3,182.1 464.8,168.5 465.3,182.2 465.8,168.6 466.3,182.0 466.8,168.4 467.3,182.2 467.8,168.6 468.3,182.0 468.8,168.5 469.3,182.2 469.8,168.6 470.3,182.4 470.8,168.7 471.3,182.4 471.8,168.4 472.3,182.5 472.8,168.3 473.3,182.5 473.8,168.1 474.3,182.5 474.8,168.1 475.3,182.5 475.8,168.0 476.3,182.5 476.8,168.0 477.3,182.4 477.8,168.1 478.3,182.3 478.8,168.2 479.3,182.3 479.8,168.1 480.3,182.4 480.8,168.2 481.3,182.4 481.8,168.0 482.3,182.4 482.8,168.0 483.3,182.4 483.8,168.1 484.3,182.3 484.8,168.4 485.3,182.2 485.8,168.5 486.3,182.3 486.8,168.6 487.3,182.2 487.8,168.5 488.3,182.1 488.8,168.5 489.3,182.1 489.8,168.5 490.3,182.2 490.8,168.3 491.3,182.2 491.8,168.4 492.3,182.2 492.8,168.5 493.3,182.2 493.8,168.4 494.3,182.0 494.8,168.7 495.3,181.9 495.8,168.4 496.3,182.1 496.8,168.4 497.3,182.3 497.8,168.5 498.3,182.2 498.8,168.5 499.3,182.0 499.8,168.3 500.3,181.9 500.8,168.2 501.3,181.8 501.8,168.2 502.3,181.9 502.8,168.3 503.3,182.1 503.8,168.1 504.3,181.9 504.8,168.1 505.3,182.1 505.8,168.1 506.3,182.3 506.8,168.2 507.3,182.4 507.8,168.2 508.3,182.2 508.8,168.5 509.3,182.4 509.8,168.5 510.3,182.2 510.8,168.5 511.3,182.1 511.8,168.2 512.3,182.3 512.8,168.3 513.3,182.1 513.8,168.1 514.3,182.1 514.8,168.3 515.3,182.0 515.8,168.4 516.3,182.0 516.8,168.3 517.3,181.8 517.8,168.3 518.3,182.0 518.8,168.3 519.3,181.9 519.8,168.2 520.3,182.0 520.8,168.2 521.3,182.0 521.8,168.2 522.3,182.1 522.8,168.0 523.3,182.0 523.8,168.3 524.3,182.0 524.8,168.3 525.3,181.9 525.8,168.2 526.3,182.1 526.8,168.3 527.3,182.0 527.8,168.2 528.3,182.0 528.8,168.3 529.3,182.0 529.8,168.5 530.3,182.1 530.8,168.7 531.3,182.1"/>
</g>
<g font-size="17.5"><text transform="translate(81.80,348.3) scale(1.12,1)" text-anchor="middle">0</text><text transform="translate(156.08,348.3) scale(1.12,1)" text-anchor="middle">0.05</text><text transform="translate(231.02,348.3) scale(1.12,1)" text-anchor="middle">0.1</text><text transform="translate(305.95,348.3) scale(1.12,1)" text-anchor="middle">0.15</text><text transform="translate(380.88,348.3) scale(1.12,1)" text-anchor="middle">0.2</text><text transform="translate(455.82,348.3) scale(1.12,1)" text-anchor="middle">0.25</text><text transform="translate(530.75,348.3) scale(1.12,1)" text-anchor="middle">0.3</text><text transform="translate(75.3,333.20) scale(1.15,1)" text-anchor="end">0</text><text transform="translate(75.3,288.64) scale(1.15,1)" text-anchor="end">1000</text><text transform="translate(75.3,244.07) scale(1.15,1)" text-anchor="end">2000</text><text transform="translate(75.3,199.51) scale(1.15,1)" text-anchor="end">3000</text><text transform="translate(75.3,154.94) scale(1.15,1)" text-anchor="end">4000</text><text transform="translate(75.3,110.38) scale(1.15,1)" text-anchor="end">5000</text><text transform="translate(75.3,65.81) scale(1.15,1)" text-anchor="end">6000</text><text transform="translate(75.3,21.25) scale(1.15,1)" text-anchor="end">7000</text></g>
<text transform="translate(252.6,369.3) scale(1.095,1)" font-size="22" letter-spacing="0.52">Time (s)</text>
<text transform="translate(28,211) scale(1.16,1) rotate(-90)" font-size="22">Power (W)</text>
<text transform="translate(421,37.6) scale(1.07,1.04)" font-size="22" letter-spacing="0.6">T=25</text>
<text transform="translate(483.9,28.1) scale(0.95,1.16)" font-size="12">o</text>
<text transform="translate(491.2,37.9) scale(1.29,1.075)" font-size="22">C</text>
<g stroke-width="1.9">
<line x1="259.4" y1="253.8" x2="293.1" y2="253.8" stroke="#000"/>
<line x1="259.4" y1="275.5" x2="293.9" y2="275.5" stroke="#0000f5"/>
<line x1="259.4" y1="298.5" x2="293.9" y2="298.5" stroke="#ff1a00"/>
</g>
<g font-size="19.4">
<text transform="translate(298.2,259.6) scale(1.095,1)" letter-spacing="0.818">Constant Velocity SMC</text>
<text transform="translate(333.9,282.4) scale(1.095,1)" letter-spacing="0.687">Exponential SMC</text>
<text transform="translate(356.7,305.2) scale(1.095,1)" letter-spacing="1.025">Improved SMC</text>
</g>
</svg>
</body></html>
